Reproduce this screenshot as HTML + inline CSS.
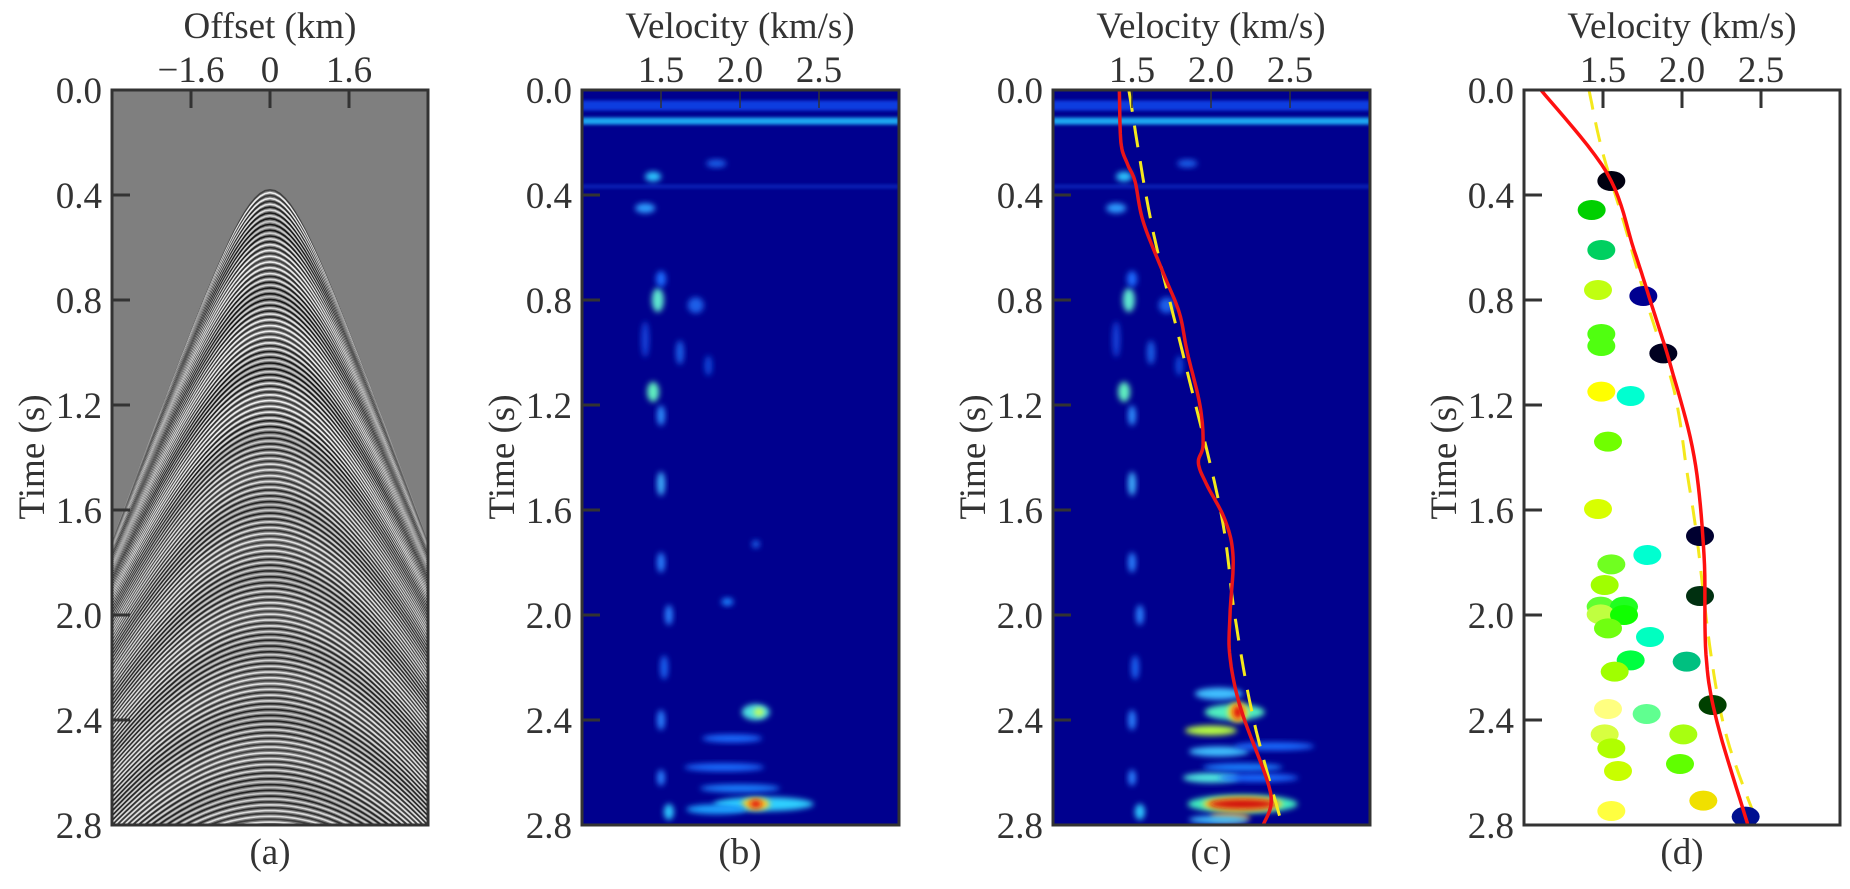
<!DOCTYPE html>
<html><head><meta charset="utf-8">
<style>
html,body{margin:0;padding:0;background:#fff;}
svg text{font-family:"Liberation Serif",serif;fill:#333;}
</style></head>
<body>
<svg id="s" width="1850" height="884" xmlns="http://www.w3.org/2000/svg">
<defs>
<filter id="bl" x="-50%" y="-50%" width="200%" height="200%"><feGaussianBlur stdDeviation="3"/></filter>
<filter id="bl2" x="-50%" y="-50%" width="200%" height="200%"><feGaussianBlur stdDeviation="1.5"/></filter>
<clipPath id="ca"><rect x="112" y="90" width="316" height="735"/></clipPath>
<clipPath id="cb"><rect x="582" y="90" width="317" height="735"/></clipPath>
<clipPath id="cc"><rect x="1053" y="90" width="317" height="735"/></clipPath>
<clipPath id="cd"><rect x="1524" y="90" width="316" height="735"/></clipPath>
</defs>
<g id="g"></g>
</svg>
<script>
var NS="http://www.w3.org/2000/svg",G=document.getElementById('g');
function el(t,a,p){var e=document.createElementNS(NS,t);for(var k in a)e.setAttribute(k,a[k]);(p||G).appendChild(e);return e;}
function txt(x,y,s,o){o=o||{};var e=el('text',Object.assign({x:x,y:y,'font-size':37,'text-anchor':'middle'},o));e.textContent=s;return e;}
var T0=90,H=735;function ty(t){return T0+t/2.8*H;}
var L={a:112,b:582,c:1053,d:1524};
function vx(p,v){return L[p]+(v-1.0)*158;}
// panel a
var ga=el('g',{'clip-path':'url(#ca)'});
el('rect',{x:112,y:90,width:316,height:735,fill:'#7f7f7f'},ga);
function ax(o){return 270+o/3.2*158;}
var i=0;
for(var t0=0.38;t0<2.9;t0+=0.011){
 var v=1.9+0.25*(t0-0.38);var d='';
 for(var o=-3.4;o<=3.41;o+=0.1){var t=Math.sqrt(t0*t0+(o/v)*(o/v));d+=(d?'L':'M')+ax(o).toFixed(1)+' '+ty(t).toFixed(1);}
 var w=(i%2==0)?'#111':'#f4f4f4';var op=0.55+0.4*Math.abs(Math.sin(i*1.7))*(t0<1.3?1:0.7);
 el('path',{d:d,fill:'none',stroke:w,'stroke-width':1.6,opacity:op},ga);i++;
}
el('rect',{x:112,y:90,width:316,height:735,fill:'none',stroke:'#333','stroke-width':3});
// velocity panels b, c
function semb(p){
 var g=el('g',{'clip-path':'url(#c'+p+')'});
 el('rect',{x:L[p],y:90,width:317,height:735,fill:'#00008e'},g);
 el('rect',{x:L[p],y:ty(0.04),width:317,height:10,fill:'#0b3ee0',filter:'url(#bl2)'},g);
 el('rect',{x:L[p],y:ty(0.105),width:317,height:7,fill:'#1aa8f2',filter:'url(#bl2)'},g);
 el('rect',{x:L[p],y:ty(0.36),width:317,height:4,fill:'#0a30c8',opacity:0.7,filter:'url(#bl2)'},g);
 var sp=[[1.45,0.33,'#2fc6ff',8,5],[1.4,0.45,'#2e9cff',10,5],[1.48,0.8,'#5fe8d0',6,12],[1.5,0.72,'#1c6cff',5,8],[1.72,0.82,'#1a5fe8',8,8],
 [1.45,1.15,'#60f0c0',6,10],[1.5,1.24,'#2f8eff',4,10],[1.5,1.5,'#3fb0ff',4,12],[1.5,1.8,'#2a80ff',4,10],[1.55,2.0,'#2a80ff',4,10],
 [1.52,2.2,'#1a60f0',4,12],[1.5,2.4,'#2a80ff',4,10],[1.5,2.62,'#2a80ff',4,8],[1.55,2.75,'#2fc6ff',5,8],[1.62,1.0,'#1a5fe8',4,12],
 [1.85,0.28,'#1a5fe8',10,4],[1.8,1.05,'#0d45d8',4,10],[1.4,0.95,'#123fd8',4,18]];
 if(p=='b'){sp=sp.concat([[2.1,2.37,'#4fe0e0',14,8],[2.12,2.37,'#d0ff50',5,4],[1.95,2.47,'#1a6cff',30,4],[1.9,2.58,'#1a6cff',40,4],
 [2.15,2.72,'#2fd0ff',50,7],[2.1,2.72,'#ffd020',14,6],[2.1,2.72,'#e01010',6,4],[1.85,2.74,'#1aa0ff',30,5],[2.0,2.66,'#1a80ff',40,4],[1.92,1.95,'#1a80ff',6,4],[2.1,1.73,'#1a5fe8',4,4]]);}
 else{sp=sp.concat([[2.15,2.37,'#50f0c0',30,8],[2.17,2.37,'#ffe020',10,10],[2.17,2.37,'#e01010',5,7],[2.05,2.3,'#40c0ff',24,6],[2.0,2.44,'#b8ff40',26,5],
 [2.05,2.52,'#40c0ff',30,5],[2.0,2.62,'#50e8e0',28,5],[2.2,2.58,'#1a80ff',40,4],
 [2.2,2.72,'#40f0c0',55,9],[2.2,2.72,'#ffd020',40,7],[2.2,2.72,'#d00808',34,5],[2.12,2.77,'#ffa020',20,4],[2.05,2.78,'#40c0ff',30,4],[2.4,2.5,'#1a6cff',40,4],[2.3,2.62,'#1a6cff',40,4]]);}
 sp.forEach(function(s){el('ellipse',{cx:vx(p,s[0]),cy:ty(s[1]),rx:s[3],ry:s[4],fill:s[2],filter:'url(#bl)'},g);});
 el('rect',{x:L[p],y:90,width:317,height:735,fill:'none',stroke:'#333','stroke-width':3});
 [1.5,2.0,2.5].forEach(function(v){el('line',{x1:vx(p,v),x2:vx(p,v),y1:90,y2:108,stroke:'#333','stroke-width':1.5});});
 return g;
}
semb('b');var gc=semb('c');
function smoothXY(pts){var out=[];for(var k=0;k<pts.length-1;k++){var p0=pts[Math.max(k-1,0)],p1=pts[k],p2=pts[k+1],p3=pts[Math.min(k+2,pts.length-1)];
 for(var s=0;s<10;s++){var u=s/10,u2=u*u,u3=u2*u;var f=function(a,b,c,d){return 0.5*(2*b+(-a+c)*u+(2*a-5*b+4*c-d)*u2+(-a+3*b-3*c+d)*u3);};
 out.push([f(p0[0],p1[0],p2[0],p3[0]),f(p0[1],p1[1],p2[1],p3[1])]);}}out.push(pts[pts.length-1]);return out;}
function pathXY(pts,g,attrs){var d='';smoothXY(pts).forEach(function(q){d+=(d?'L':'M')+q[0].toFixed(1)+' '+q[1].toFixed(1);});return el('path',Object.assign({d:d,fill:'none'},attrs),g);}
function tv(p,arr){return arr.map(function(q){return [vx(p,q[1]),ty(q[0])];});}
var yc=[[0,1.48],[0.5,1.62],[1.0,1.82],[1.6,2.06],[2.0,2.15],[2.4,2.27],[2.8,2.45]];
pathXY(tv('c',yc),gc,{stroke:'#f4e81c','stroke-width':3,'stroke-dasharray':'22 14'});
var rc=[[0,1.42],[0.2,1.43],[0.28,1.47],[0.35,1.52],[0.5,1.57],[0.7,1.7],[0.85,1.8],[1.0,1.85],[1.2,1.93],[1.35,1.95],[1.42,1.92],[1.5,1.97],[1.64,2.09],[1.78,2.14],[2.0,2.12],[2.16,2.12],[2.36,2.19],[2.62,2.35],[2.72,2.38],[2.8,2.33]];
pathXY(tv('c',rc),gc,{stroke:'#e8141a','stroke-width':3.5});
// panel d
var gd=el('g',{'clip-path':'url(#cd)'});
el('rect',{x:1524,y:90,width:316,height:735,fill:'#fff'},gd);
var d1=[[262,273,'#000010'],[203,360,'#00d000'],[232,480,'#00d060'],[222,600,'#c0ff10'],[358,618,'#000090'],[232,732,'#50ff10'],[232,768,'#50ff10'],[418,790,'#000020'],[232,905,'#ffff00'],[320,918,'#00ffd0'],[252,1055,'#70ff00']];
var d2=[[222,162,'#d8ff00'],[528,243,'#000030'],[370,300,'#00ffd0'],[262,328,'#70ff20'],[242,390,'#a0ff00'],[528,423,'#003010'],[230,455,'#60ff30'],[300,455,'#20ff20'],[230,478,'#c0ff40'],[300,480,'#10ff00'],[252,520,'#70ff10'],[378,546,'#00ffc0'],[320,616,'#00ff40'],[488,620,'#00c080'],[272,650,'#a0ff00'],[566,750,'#004000'],[252,762,'#ffff80'],[368,777,'#60ff90'],[242,838,'#d8ff40'],[262,880,'#b0ff00'],[478,838,'#a8ff10'],[468,927,'#60ff00'],[282,948,'#c8ff00'],[538,1037,'#f0e000'],[262,1068,'#ffff40'],[665,1085,'#001090']];
var yd=[[1589,90],[1602,150],[1624,223],[1647,303],[1674,390],[1687,472],[1697,538],[1711,655],[1727,738],[1757,822],[1762,830]];
pathXY(yd,gd,{stroke:'#f4e81c','stroke-width':3,'stroke-dasharray':'20 13'});
d1.forEach(function(q){el('ellipse',{cx:1524+q[0]/3,cy:90+q[1]/3,rx:14,ry:10,fill:q[2]},gd);});
d2.forEach(function(q){el('ellipse',{cx:1524+q[0]/3,cy:455+q[1]/3,rx:14,ry:10,fill:q[2]},gd);});
var rd=[[1541,90],[1607,173],[1634,250],[1651,303],[1671,367],[1694,456],[1704,555],[1706,655],[1717,722],[1747,822],[1749,830]];
pathXY(rd,gd,{stroke:'#ff1010','stroke-width':3.5});
el('rect',{x:1524,y:90,width:316,height:735,fill:'none',stroke:'#333','stroke-width':3});
[1.5,2.0,2.5].forEach(function(v){el('line',{x1:vx('d',v),x2:vx('d',v),y1:90,y2:108,stroke:'#333','stroke-width':3});});
// axes labels & ticks
['a','b','c','d'].forEach(function(p){
 var lx=L[p];
 for(var k=0;k<=7;k++){var t=k*0.4;var y=ty(t);
  txt(lx-10,y+13,t.toFixed(1),{'text-anchor':'end'});
  if(k>0&&k<7)el('line',{x1:lx,x2:lx+18,y1:y,y2:y,stroke:'#333','stroke-width':3});}
 txt(lx-68,457,'Time (s)',{transform:'rotate(-90 '+(lx-68)+' 457)'});
 txt(lx+158,864,'('+p+')');
});
txt(270,38,'Offset (km)');
[[-1.6,'\u22121.6'],[0,'0'],[1.6,'1.6']].forEach(function(q){txt(ax(q[0]),82,q[1]);el('line',{x1:ax(q[0]),x2:ax(q[0]),y1:90,y2:108,stroke:'#333','stroke-width':3});});
['b','c','d'].forEach(function(p){txt(L[p]+158,38,'Velocity (km/s)');[1.5,2.0,2.5].forEach(function(v){txt(vx(p,v),82,v.toFixed(1));});});
</script>
</body></html>
